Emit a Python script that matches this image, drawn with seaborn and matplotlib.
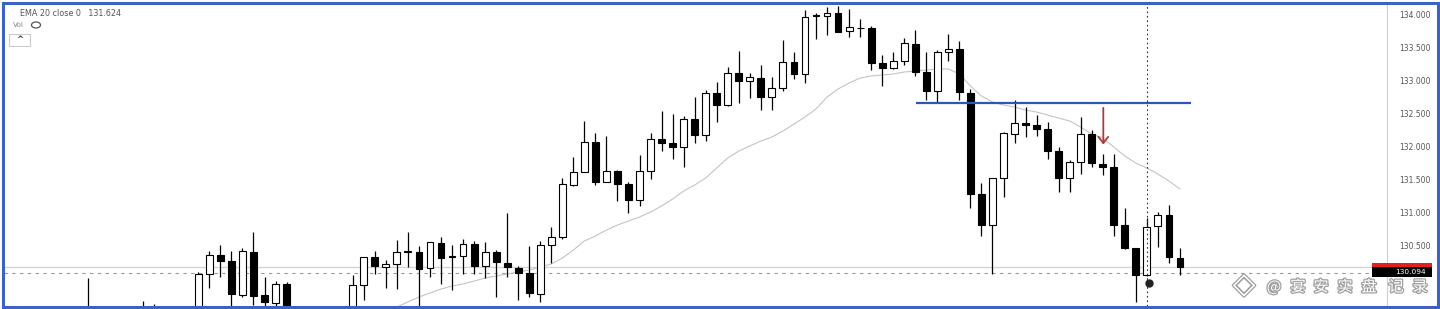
import matplotlib
matplotlib.use("Agg")
import matplotlib.pyplot as plt
import matplotlib.patheffects as pe
from matplotlib.patches import Rectangle, Ellipse
import seaborn as sns

# ---------------- data ----------------
candle_pos = [0, 5, 6, 10, 11, 12, 13, 14, 15, 16, 17, 18,
              24, 25, 26, 27, 28, 29, 30, 31, 32, 33, 34, 35, 36, 37, 38, 39,
              40, 41, 42, 43, 44, 45, 46, 47, 48, 49, 50, 51, 52, 53, 54, 55,
              56, 57, 58, 59, 60, 61, 62, 63, 64, 65, 66, 67, 68, 69, 70, 71,
              72, 73, 74, 75, 76, 77, 78, 79, 80, 81, 82, 83, 84, 85, 86, 87,
              88, 89, 90, 91, 92, 93, 94, 95, 96, 97, 98, 99]
opens = [129.44, 129.45, 129.48, 129.44, 130.056, 130.348, 130.258, 129.742, 130.399, 129.742, 129.617, 129.904,
         129.45, 129.894, 130.313, 130.171, 130.212, 130.399, 130.399, 130.147, 130.535, 130.318, 130.333, 130.510, 130.182, 130.399, 130.232, 130.156,
         130.071, 129.758, 130.500, 130.617, 131.409, 131.610, 132.065, 131.459, 131.621, 131.424, 131.182, 131.626, 132.101, 132.050, 131.980, 132.405,
         132.167, 132.808, 132.621, 133.101, 132.989, 133.035, 132.747, 132.874, 133.277, 133.091, 133.974, 133.970, 134.010, 133.742, 133.795, 133.783,
         133.253, 133.177, 133.288, 133.541, 133.126, 132.833, 133.420, 133.465, 132.808, 131.268, 130.803, 131.510, 132.182, 132.344, 132.314, 132.262,
         131.924, 131.520, 131.762, 132.182, 131.727, 131.677, 130.803, 130.450, 130.045, 130.788, 130.954, 130.308]
highs = [130.000, 129.656, 129.606, 130.095, 130.409, 130.500, 130.414, 130.459, 130.692, 130.011, 129.954, 129.935,
         130.045, 130.318, 130.409, 130.273, 130.576, 130.692, 130.485, 130.550, 130.617, 130.500, 130.586, 130.561, 130.550, 130.424, 130.990, 130.182,
         130.485, 130.565, 130.777, 131.510, 131.838, 132.379, 132.201, 132.156, 131.636, 131.459, 131.864, 132.192, 132.535, 132.485, 132.454, 132.738,
         132.848, 132.965, 133.192, 133.444, 133.101, 133.227, 133.050, 133.606, 133.420, 134.061, 134.010, 134.111, 134.121, 134.071, 133.920, 133.818,
         133.379, 133.429, 133.632, 133.757, 133.429, 133.455, 133.692, 133.595, 132.859, 131.435, 131.515, 132.212, 132.697, 132.586, 132.470, 132.364,
         131.980, 131.788, 132.444, 132.242, 131.874, 131.874, 131.056, 130.455, 130.904, 131.005, 131.106, 130.450]
lows = [129.40, 129.40, 129.40, 129.40, 129.844, 130.011, 129.545, 129.717, 129.591, 129.565, 129.580, 129.40,
        129.40, 129.667, 130.056, 129.844, 129.829, 130.162, 129.545, 130.020, 129.909, 129.818, 130.056, 130.056, 129.995, 129.717, 130.011, 129.667,
        129.717, 129.641, 130.223, 130.591, 131.398, 131.601, 131.409, 131.454, 131.171, 130.990, 131.091, 131.495, 131.924, 131.798, 131.677, 132.050,
        132.080, 132.368, 132.606, 132.656, 132.723, 132.545, 132.545, 132.838, 133.010, 132.950, 133.621, 133.682, 133.727, 133.647, 133.647, 133.151,
        132.909, 133.162, 133.227, 133.060, 132.697, 132.671, 133.288, 132.697, 131.056, 130.641, 130.061, 131.232, 132.050, 132.141, 132.151, 131.798,
        131.298, 131.307, 131.576, 131.686, 131.560, 130.641, 130.440, 129.641, 130.030, 130.474, 130.223, 130.045]
closes = [129.47, 129.48, 129.45, 130.061, 130.348, 130.262, 129.758, 130.409, 129.732, 129.632, 129.904, 129.45,
          129.894, 130.313, 130.182, 130.207, 130.389, 130.405, 130.136, 130.541, 130.308, 130.329, 130.510, 130.182, 130.389, 130.238, 130.162, 130.071,
          129.768, 130.500, 130.626, 131.419, 131.610, 132.065, 131.459, 131.621, 131.419, 131.182, 131.621, 132.101, 132.050, 131.989, 132.405, 132.167,
          132.808, 132.621, 133.101, 132.989, 133.041, 132.738, 132.874, 133.277, 133.091, 133.950, 133.980, 134.010, 133.732, 133.798, 133.790, 133.262,
          133.186, 133.292, 133.556, 133.126, 132.833, 133.420, 133.470, 132.814, 131.273, 130.803, 131.510, 132.192, 132.344, 132.314, 132.262, 131.924,
          131.520, 131.762, 132.182, 131.738, 131.677, 130.803, 130.450, 130.045, 130.777, 130.954, 130.313, 130.171]

ema_pos = list(range(28, 100))
ema_vals = [129.561, 129.636, 129.712, 129.773, 129.833, 129.879, 129.909, 129.954, 130.000, 130.030,
            130.061, 130.091, 130.121, 130.167, 130.212, 130.303, 130.424, 130.561, 130.636, 130.727,
            130.803, 130.864, 130.924, 131.000, 131.091, 131.197, 131.318, 131.409, 131.515, 131.667,
            131.818, 131.924, 132.000, 132.076, 132.136, 132.227, 132.333, 132.439, 132.561, 132.742,
            132.864, 132.955, 133.030, 133.061, 133.076, 133.091, 133.121, 133.136, 133.151, 133.167,
            133.167, 133.091, 132.909, 132.758, 132.667, 132.621, 132.591, 132.545, 132.515, 132.470,
            132.424, 132.379, 132.288, 132.182, 132.121, 131.985, 131.848, 131.742, 131.667, 131.576,
            131.470, 131.348]

price_ticks = [130.5, 131.0, 131.5, 132.0, 132.5, 133.0, 133.5, 134.0]
resistance_level = 132.651
resistance_start, resistance_end = 75.1, 100.0
arrow_pos, arrow_top, arrow_tip = 92.05, 132.621, 131.98
cursor_pos = 96
last_price_line = 130.171
dashed_price_line = 130.08
header_text = "EMA 20 close 0   131.624"
price_box_text = "130.094"
watermark_chars = ["@", "宴", "安", "实", "盘", "记", "录"]

# ---------------- figure ----------------
sns.set_style("white")
W, H = 1440, 309
fig = plt.figure(figsize=(W / 100, H / 100), dpi=100)
fig.patch.set_facecolor("white")

ax = fig.add_axes([4 / W, 1 - 306 / H, (1387 - 4) / W, (306 - 3) / H])
ax.set_xlim(-7.62, 117.77)
ax.set_ylim(129.576, 134.167)
ax.set_facecolor("white")

# horizontal price lines
ax.axhline(last_price_line, color="#d2d2d2", lw=0.9, zorder=1)
ax.axhline(dashed_price_line, color="#9a9a9a", lw=0.8, ls=(0, (3, 4)), zorder=1)

# EMA line
sns.lineplot(x=ema_pos, y=ema_vals, ax=ax, color="#c4c4c4", lw=0.8, zorder=2)

# candles
ax.vlines(candle_pos, lows, highs, color="black", lw=0.9, zorder=3)
body_colors = ["white" if c >= o else "black" for o, c in zip(opens, closes)]
heights = [c - o for o, c in zip(opens, closes)]
ax.bar(candle_pos, heights, bottom=opens, width=0.62, color=body_colors,
       edgecolor="black", linewidth=0.8, zorder=4)

# resistance line
ax.hlines(resistance_level, resistance_start, resistance_end, color="#2f55b5", lw=1.6, zorder=5)

# vertical cursor line
ax.axvline(cursor_pos, color="#333333", lw=0.8, ls=(0, (1.5, 2.5)), zorder=5)

# red arrow
ax.annotate("", xy=(arrow_pos, arrow_tip), xytext=(arrow_pos, arrow_top),
            arrowprops=dict(arrowstyle="->,head_length=0.45,head_width=0.35",
                            color="#b03a3a", lw=1.3), zorder=6)

# cursor blob
ax.plot([cursor_pos + 0.2], [129.92], marker="o", ms=5, color="#222222", zorder=7)

# axes styling
for s in ["top", "left", "bottom"]:
    ax.spines[s].set_visible(False)
ax.spines["right"].set_color("#cfcfcf")
ax.spines["right"].set_linewidth(0.8)
ax.set_xticks([])
ax.yaxis.tick_right()
ax.set_yticks(price_ticks)
ax.set_yticklabels([f"{t:.3f}" for t in price_ticks])
ax.tick_params(axis="y", length=0, pad=9, labelsize=5.5, labelcolor="#555555")
ax.set_xlabel("")
ax.set_ylabel("")

# header texts
fig.text(20 / W, 1 - 14 / H, header_text, fontsize=5.8, color="#555555", va="center", ha="left")
fig.text(13 / W, 1 - 25 / H, "Vol", fontsize=5.2, color="#888888", va="center", ha="left")
fig.patches.append(Ellipse((36 / W, 1 - 25 / H), 9 / W, 6 / H, transform=fig.transFigure,
                           fill=False, edgecolor="#555555", lw=0.9))
fig.patches.append(Rectangle((9 / W, 1 - 46 / H), 21 / W, 12 / H, transform=fig.transFigure,
                             fill=False, edgecolor="#cccccc", lw=0.8))
fig.text(19.5 / W, 1 - 40 / H, "^", fontsize=6, color="#333333", va="center", ha="center",
         fontweight="bold")

# price box on the axis
fig.patches.append(Rectangle((1372 / W, 1 - 277 / H), 60 / W, 14 / H, transform=fig.transFigure,
                             facecolor="black", edgecolor="none", zorder=8))
fig.patches.append(Rectangle((1372 / W, 1 - 267 / H), 60 / W, 4 / H, transform=fig.transFigure,
                             facecolor="#e02020", edgecolor="none", zorder=8))
fig.text(1410 / W, 1 - 272 / H, price_box_text, fontsize=5.3, color="white", va="center",
         ha="center", zorder=9)

# watermark (letter-spaced)
wm_effect = [pe.withStroke(linewidth=1.8, foreground="#a0a0a0")]
wm_centers = [1274, 1298, 1321, 1345, 1369, 1396, 1420]
for ch, cx in zip(watermark_chars, wm_centers):
    fig.text(cx / W, 1 - 287 / H, ch, fontsize=11, color="white", va="center", ha="center",
             family=["Noto Sans CJK SC", "DejaVu Sans"], path_effects=wm_effect, zorder=10)
fig.text(1244 / W, 1 - 285 / H, "◈", fontsize=21, color="white", va="center", ha="center",
         family=["DejaVu Sans"], path_effects=wm_effect, zorder=10)

# blue frame
fig.patches.append(Rectangle((2.5 / W, 2.5 / H), (W - 5) / W, (H - 5) / H, transform=fig.transFigure,
                             fill=False, edgecolor="#3b62c4", lw=2.2, zorder=20))

fig.savefig("out.png", dpi=100, facecolor="white")
